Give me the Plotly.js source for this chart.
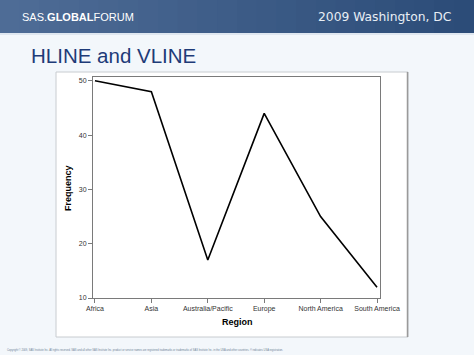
<!DOCTYPE html>
<html>
<head>
<meta charset="utf-8">
<script src="https://cdn.plot.ly/plotly-3.0.1.min.js"></script>
<style>html,body{margin:0;padding:0;background:#f3f7fb;}#chart{width:474px;height:355px;}</style>
</head>
<body>
<div id="chart"></div>
<script>
var regions = ["Africa", "Asia", "Australia/Pacific", "Europe", "North America", "South America"];
var frequency = [50, 48, 17, 44, 25, 12];
var yTicks = [10, 20, 30, 40, 50];

// plot area in page pixels
var L = 93, R = 380, T = 77, B = 298, W = 474, H = 355;
function px(x) { return (x - L) / (R - L); }
function py(y) { return (B - y) / (B - T); }

var shapes = [];
// header band with horizontal gradient
var n = 24;
var c0 = [78, 108, 150], c1 = [44, 76, 120];
for (var i = 0; i < n; i++) {
  var t = i / (n - 1);
  var c = c0.map(function (v, k) { return Math.round(v + (c1[k] - v) * t); });
  shapes.push({type: 'rect', xref: 'paper', yref: 'paper', layer: 'below',
    x0: px(W * i / n), x1: px(W * (i + 1) / n + 1), y0: py(33), y1: py(0),
    line: {width: 0}, fillcolor: 'rgb(' + c.join(',') + ')'});
}
shapes.push({type: 'rect', xref: 'paper', yref: 'paper', layer: 'below',
  x0: px(0), x1: px(W), y0: py(35), y1: py(33), line: {width: 0}, fillcolor: '#dfe7f0'});
// white picture frame
shapes.push({type: 'rect', xref: 'paper', yref: 'paper', layer: 'below',
  x0: px(56), x1: px(408), y0: py(337), y1: py(72), line: {width: 1, color: '#c8ccd0'}, fillcolor: '#ffffff'});
shapes.push({type: 'line', xref: 'paper', yref: 'paper', layer: 'below',
  x0: px(407.5), x1: px(407.5), y0: py(337), y1: py(72), line: {width: 1.5, color: '#9a9a9a'}});

var annotations = [
  {text: 'SAS.<b>GLOBAL</b>FORUM', x: px(20), y: py(17), xanchor: 'left', yanchor: 'middle',
   font: {family: 'Liberation Sans, Arial', size: 11, color: '#ffffff'}},
  {text: '2009 Washington, DC', x: px(453), y: py(17), xanchor: 'right', yanchor: 'middle',
   font: {family: 'DejaVu Sans, Liberation Sans', size: 12.3, color: '#e8eef5'}},
  {text: 'HLINE and VLINE', x: px(29), y: py(56), xanchor: 'left', yanchor: 'middle',
   font: {family: 'Liberation Sans Narrow, Arial Narrow, Liberation Sans', size: 20.5, color: '#1e3b78'}},
  {text: '<b>Frequency</b>', x: px(68), y: py(188), xanchor: 'center', yanchor: 'middle', textangle: -90,
   font: {family: 'Liberation Sans, Arial', size: 9, color: '#000000'}},
  {text: '<b>Region</b>', x: px(237), y: py(322), xanchor: 'center', yanchor: 'middle',
   font: {family: 'Liberation Sans, Arial', size: 9, color: '#000000'}},
  {text: 'Copyright © 2009, SAS Institute Inc. All rights reserved. SAS and all other SAS Institute Inc. product or service names are registered trademarks or trademarks of SAS Institute Inc. in the USA and other countries. ® indicates USA registration.',
   x: px(5), y: py(350), xanchor: 'left', yanchor: 'middle',
   font: {family: 'Liberation Sans, Arial', size: 2.6, color: '#6d7f95'}}
];
annotations.forEach(function (a) { a.xref = 'paper'; a.yref = 'paper'; a.showarrow = false; });

var trace = {
  x: regions, y: frequency, type: 'scatter', mode: 'lines',
  line: {color: '#000000', width: 1.6}, hoverinfo: 'none'
};

var layout = {
  width: W, height: H,
  margin: {l: L, r: W - R, t: T, b: H - B, pad: 0},
  paper_bgcolor: '#f3f7fb', plot_bgcolor: '#ffffff',
  showlegend: false,
  xaxis: {type: 'category', range: [-0.035, 5.053], showgrid: false, zeroline: false,
    showline: true, linecolor: '#7a7a7a', linewidth: 1, mirror: true,
    ticks: 'outside', ticklen: 4, tickcolor: '#7a7a7a',
    tickfont: {family: 'Liberation Sans, Arial', size: 7, color: '#333333'}},
  yaxis: {range: [10, 50.7], tickvals: yTicks, showgrid: false, zeroline: false,
    showline: true, linecolor: '#7a7a7a', linewidth: 1, mirror: true,
    ticks: 'outside', ticklen: 4, tickcolor: '#7a7a7a',
    tickfont: {family: 'Liberation Sans, Arial', size: 7, color: '#333333'}},
  shapes: shapes,
  annotations: annotations
};

Plotly.newPlot('chart', [trace], layout, {displayModeBar: false, staticPlot: true});
</script>
</body>
</html>
